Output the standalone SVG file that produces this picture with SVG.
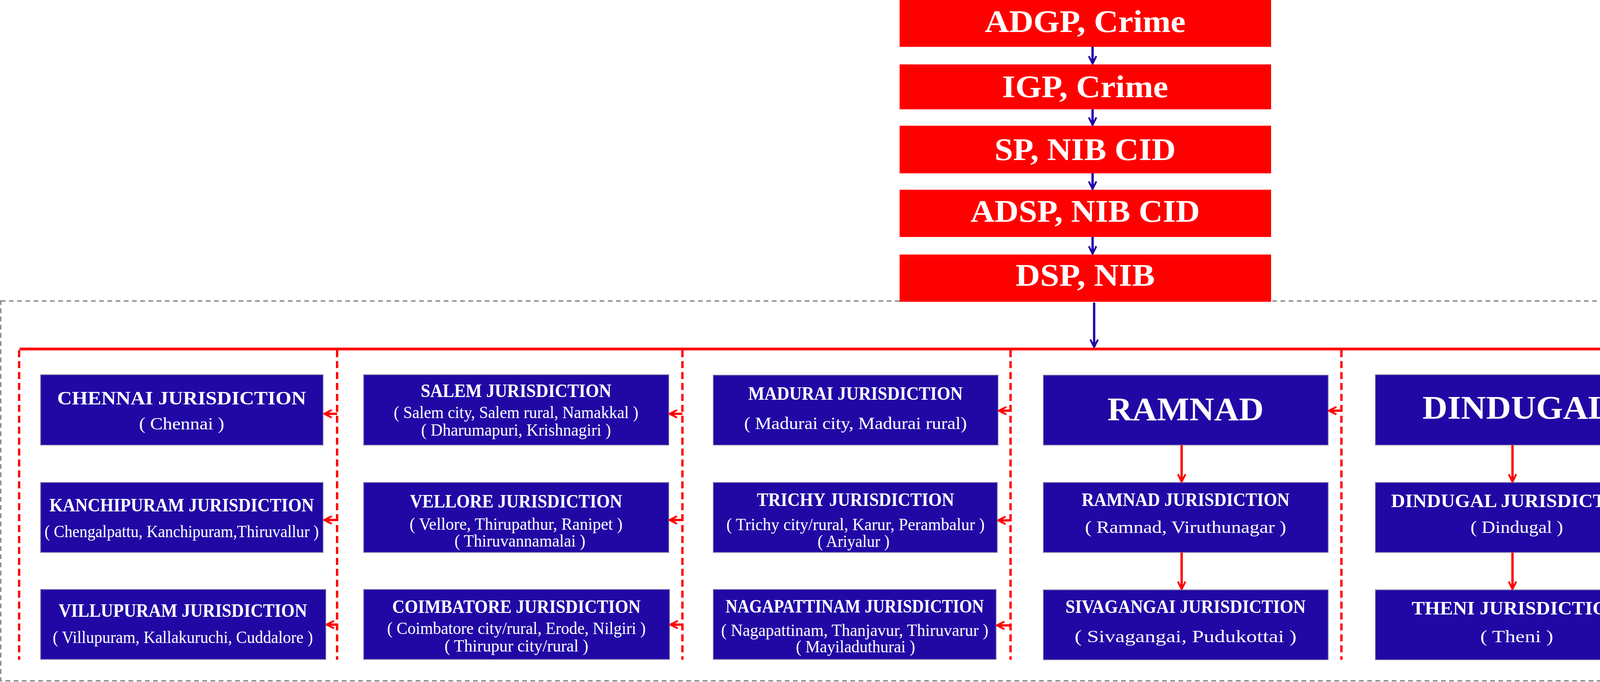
<svg xmlns="http://www.w3.org/2000/svg" width="5211" height="1747" viewBox="0 0 5211 1747">
<style>
.rb{fill:#ff0000}
.bb{fill:#2108a5;stroke:#7a78a8;stroke-width:2}
text{fill:#fff;font-family:"Liberation Serif",serif;text-anchor:middle}
.h{font-weight:bold;font-size:80px}
.t{font-weight:bold;font-size:48px}
.s{font-size:45px}
.big{font-weight:bold;font-size:84px}
.dash{stroke:#ff0000;stroke-width:6;stroke-dasharray:18 10;fill:none}
.ra{stroke:#ff0000;stroke-width:6;fill:none}
.ba{stroke:#2108a5;stroke-width:6;fill:none}
</style>
<defs>
<marker id="mr" viewBox="0 0 10 10" refX="9" refY="5" markerWidth="4" markerHeight="4" orient="auto" markerUnits="strokeWidth"><path d="M1,1 L9,5 L1,9" stroke="#ff0000" stroke-width="2" fill="none"/></marker>
<marker id="mb" viewBox="0 0 10 10" refX="9" refY="5" markerWidth="4" markerHeight="4" orient="auto" markerUnits="strokeWidth"><path d="M1,1 L9,5 L1,9" stroke="#2108a5" stroke-width="2" fill="none"/></marker>
</defs>
<rect x="2" y="771" width="5206" height="973" fill="none" stroke="#777" stroke-width="3" stroke-dasharray="12 9"/>
<g id="adgp"><rect class="rb" x="2303" y="0" width="951" height="120"/><text class="h" x="2778" y="82" textLength="514" lengthAdjust="spacingAndGlyphs">ADGP, Crime</text></g>
<g id="igp"><rect class="rb" x="2303" y="165" width="951" height="115"/><text class="h" x="2778" y="249" textLength="425" lengthAdjust="spacingAndGlyphs">IGP, Crime</text></g>
<g id="sp"><rect class="rb" x="2303" y="322" width="951" height="122"/><text class="h" x="2778" y="410" textLength="464" lengthAdjust="spacingAndGlyphs">SP, NIB CID</text></g>
<g id="adsp"><rect class="rb" x="2303" y="486" width="951" height="121"/><text class="h" x="2778" y="568" textLength="587" lengthAdjust="spacingAndGlyphs">ADSP, NIB CID</text></g>
<g id="dsp"><rect class="rb" x="2303" y="652" width="951" height="121"/><text class="h" x="2778" y="732" textLength="357" lengthAdjust="spacingAndGlyphs">DSP, NIB</text></g>

<g id="chennai"><rect class="bb" x="104" y="960" width="723" height="180"/><text class="t" x="465" y="1036" textLength="637" lengthAdjust="spacingAndGlyphs">CHENNAI JURISDICTION</text><text class="s" x="465" y="1100" textLength="218" lengthAdjust="spacingAndGlyphs">( Chennai )</text></g>
<g id="kanchipuram"><rect class="bb" x="104" y="1236" width="723" height="179"/><text class="t" x="465" y="1310" textLength="677" lengthAdjust="spacingAndGlyphs">KANCHIPURAM JURISDICTION</text><text class="s" x="465" y="1376" textLength="702" lengthAdjust="spacingAndGlyphs">( Chengalpattu, Kanchipuram,Thiruvallur )</text></g>
<g id="villupuram"><rect class="bb" x="104" y="1510" width="730" height="179"/><text class="t" x="468" y="1580" textLength="636" lengthAdjust="spacingAndGlyphs">VILLUPURAM JURISDICTION</text><text class="s" x="468" y="1647" textLength="666" lengthAdjust="spacingAndGlyphs">( Villupuram, Kallakuruchi, Cuddalore )</text></g>

<g id="salem"><rect class="bb" x="931" y="960" width="781" height="180"/><text class="t" x="1321" y="1017" textLength="488" lengthAdjust="spacingAndGlyphs">SALEM JURISDICTION</text><text class="s" x="1321" y="1071" textLength="626" lengthAdjust="spacingAndGlyphs">( Salem city, Salem rural, Namakkal )</text><text class="s" x="1321" y="1116" textLength="486" lengthAdjust="spacingAndGlyphs">( Dharumapuri, Krishnagiri )</text></g>
<g id="vellore"><rect class="bb" x="931" y="1236" width="781" height="179"/><text class="t" x="1321" y="1300" textLength="543" lengthAdjust="spacingAndGlyphs">VELLORE JURISDICTION</text><text class="s" x="1321" y="1357" textLength="545" lengthAdjust="spacingAndGlyphs">( Vellore, Thirupathur, Ranipet )</text><text class="s" x="1331" y="1400" textLength="335" lengthAdjust="spacingAndGlyphs">( Thiruvannamalai )</text></g>
<g id="coimbatore"><rect class="bb" x="931" y="1510" width="783" height="179"/><text class="t" x="1322" y="1570" textLength="636" lengthAdjust="spacingAndGlyphs">COIMBATORE JURISDICTION</text><text class="s" x="1322" y="1624" textLength="662" lengthAdjust="spacingAndGlyphs">( Coimbatore city/rural, Erode, Nilgiri )</text><text class="s" x="1322" y="1669" textLength="368" lengthAdjust="spacingAndGlyphs">( Thirupur city/rural )</text></g>

<g id="madurai"><rect class="bb" x="1826" y="961" width="729" height="179"/><text class="t" x="2190" y="1024" textLength="549" lengthAdjust="spacingAndGlyphs">MADURAI JURISDICTION</text><text class="s" x="2190" y="1099" textLength="570" lengthAdjust="spacingAndGlyphs">( Madurai city, Madurai rural)</text></g>
<g id="trichy"><rect class="bb" x="1826" y="1236" width="727" height="179"/><text class="t" x="2190" y="1296" textLength="505" lengthAdjust="spacingAndGlyphs">TRICHY JURISDICTION</text><text class="s" x="2190" y="1358" textLength="661" lengthAdjust="spacingAndGlyphs">( Trichy city/rural, Karur, Perambalur )</text><text class="s" x="2185" y="1401" textLength="184" lengthAdjust="spacingAndGlyphs">( Ariyalur )</text></g>
<g id="nagapattinam"><rect class="bb" x="1826" y="1510" width="724" height="179"/><text class="t" x="2188" y="1569" textLength="661" lengthAdjust="spacingAndGlyphs">NAGAPATTINAM JURISDICTION</text><text class="s" x="2188" y="1629" textLength="684" lengthAdjust="spacingAndGlyphs">( Nagapattinam, Thanjavur, Thiruvarur )</text><text class="s" x="2190" y="1671" textLength="305" lengthAdjust="spacingAndGlyphs">( Mayiladuthurai )</text></g>

<g id="ramnad"><rect class="bb" x="2671" y="961" width="729" height="179"/><text class="big" x="3035" y="1077" textLength="400" lengthAdjust="spacingAndGlyphs">RAMNAD</text></g>
<g id="ramnad-j"><rect class="bb" x="2671" y="1236" width="729" height="179"/><text class="t" x="3035" y="1296" textLength="532" lengthAdjust="spacingAndGlyphs">RAMNAD JURISDICTION</text><text class="s" x="3035" y="1365" textLength="515" lengthAdjust="spacingAndGlyphs">( Ramnad, Viruthunagar )</text></g>
<g id="sivagangai"><rect class="bb" x="2671" y="1511" width="729" height="179"/><text class="t" x="3035" y="1570" textLength="615" lengthAdjust="spacingAndGlyphs">SIVAGANGAI JURISDICTION</text><text class="s" x="3035" y="1645" textLength="568" lengthAdjust="spacingAndGlyphs">( Sivagangai, Pudukottai )</text></g>

<g id="dindugal"><rect class="bb" x="3521" y="960" width="730" height="180"/><text class="big" x="3883" y="1073" textLength="483" lengthAdjust="spacingAndGlyphs">DINDUGAL</text></g>
<g id="dindugal-j"><rect class="bb" x="3521" y="1236" width="730" height="179"/><text class="t" x="3883" y="1299" textLength="644" lengthAdjust="spacingAndGlyphs">DINDUGAL JURISDICTION</text><text class="s" x="3883" y="1365" textLength="237" lengthAdjust="spacingAndGlyphs">( Dindugal )</text></g>
<g id="theni"><rect class="bb" x="3521" y="1511" width="730" height="179"/><text class="t" x="3883" y="1574" textLength="538" lengthAdjust="spacingAndGlyphs">THENI JURISDICTION</text><text class="s" x="3883" y="1645" textLength="187" lengthAdjust="spacingAndGlyphs">( Theni )</text></g>

<g id="thoothukudi"><rect class="bb" x="4364" y="963" width="729" height="179"/><text class="big" x="4728" y="1083" textLength="686" lengthAdjust="spacingAndGlyphs">THOOTHUKUDI</text></g>
<g id="thoothukudi-j"><rect class="bb" x="4364" y="1238" width="729" height="179"/><text class="t" x="4728" y="1302" textLength="678" lengthAdjust="spacingAndGlyphs">THOOTHUKUDI JURISDICTION</text><text class="s" x="4728" y="1368" textLength="636" lengthAdjust="spacingAndGlyphs">( Thoothukudi city, Tirunelveli city )</text></g>
<g id="kanyakumari"><rect class="bb" x="4364" y="1513" width="729" height="179"/><text class="t" x="4728" y="1572" textLength="677" lengthAdjust="spacingAndGlyphs">KANYAKUMARI JURISDICTION</text><text class="s" x="4728" y="1642" textLength="707" lengthAdjust="spacingAndGlyphs">( Kanyakumari, Tirunelveli, Tenkasi )</text></g>

<g id="connectors">
<line class="ba" x1="2797" y1="120" x2="2797" y2="163" marker-end="url(#mb)"/>
<line class="ba" x1="2797" y1="280" x2="2797" y2="320" marker-end="url(#mb)"/>
<line class="ba" x1="2797" y1="444" x2="2797" y2="484" marker-end="url(#mb)"/>
<line class="ba" x1="2797" y1="607" x2="2797" y2="650" marker-end="url(#mb)"/>
<line class="ba" x1="2801" y1="775" x2="2801" y2="889" stroke-width="8" marker-end="url(#mb)"/>
<line x1="50" y1="894" x2="5129" y2="894" stroke="#ff0000" stroke-width="7"/>
<line class="dash" x1="49" y1="897" x2="49" y2="1690"/>
<line class="dash" x1="863" y1="897" x2="863" y2="1690"/>
<line class="dash" x1="1747" y1="897" x2="1747" y2="1690"/>
<line class="dash" x1="2587" y1="897" x2="2587" y2="1690"/>
<line class="dash" x1="3434" y1="897" x2="3434" y2="1690"/>
<line class="dash" x1="4284" y1="897" x2="4284" y2="1690"/>
<line class="dash" x1="5126" y1="897" x2="5126" y2="1690"/>
<line class="ra" x1="863" y1="1060" x2="830" y2="1060" stroke-width="4" marker-end="url(#mr)"/>
<line class="ra" x1="863" y1="1332" x2="830" y2="1332" stroke-width="4" marker-end="url(#mr)"/>
<line class="ra" x1="863" y1="1600" x2="836" y2="1600" stroke-width="4" marker-end="url(#mr)"/>
<line class="ra" x1="1747" y1="1060" x2="1714" y2="1060" stroke-width="4" marker-end="url(#mr)"/>
<line class="ra" x1="1747" y1="1332" x2="1714" y2="1332" stroke-width="4" marker-end="url(#mr)"/>
<line class="ra" x1="1747" y1="1600" x2="1716" y2="1600" stroke-width="4" marker-end="url(#mr)"/>
<line class="ra" x1="2587" y1="1052" x2="2557" y2="1052" stroke-width="4" marker-end="url(#mr)"/>
<line class="ra" x1="2587" y1="1333" x2="2555" y2="1333" stroke-width="4" marker-end="url(#mr)"/>
<line class="ra" x1="2587" y1="1602" x2="2552" y2="1602" stroke-width="4" marker-end="url(#mr)"/>
<line class="ra" x1="3434" y1="1052" x2="3402" y2="1052" stroke-width="4" marker-end="url(#mr)"/>
<line class="ra" x1="4284" y1="1052" x2="4253" y2="1052" stroke-width="4" marker-end="url(#mr)"/>
<line class="ra" x1="5126" y1="1052" x2="5095" y2="1052" stroke-width="4" marker-end="url(#mr)"/>
<line class="ra" x1="3025" y1="1140" x2="3025" y2="1234" marker-end="url(#mr)"/>
<line class="ra" x1="3025" y1="1415" x2="3025" y2="1509" marker-end="url(#mr)"/>
<line class="ra" x1="3872" y1="1140" x2="3872" y2="1234" marker-end="url(#mr)"/>
<line class="ra" x1="3872" y1="1415" x2="3872" y2="1509" marker-end="url(#mr)"/>
<line class="ra" x1="4724" y1="1142" x2="4724" y2="1236" marker-end="url(#mr)"/>
<line class="ra" x1="4724" y1="1417" x2="4724" y2="1511" marker-end="url(#mr)"/>
</g>
</svg>
